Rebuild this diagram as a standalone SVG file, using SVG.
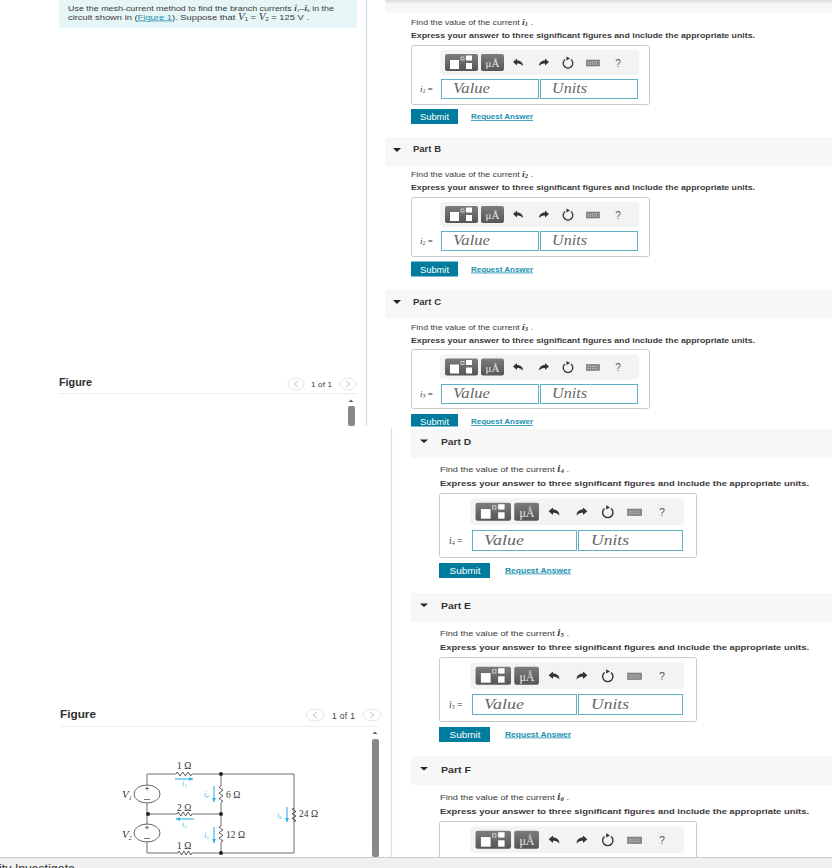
<svg xmlns="http://www.w3.org/2000/svg" xmlns:xlink="http://www.w3.org/1999/xlink" width="832" height="868" viewBox="0 0 832 868">
<style>
text{font-family:"Liberation Sans",Arial,sans-serif;fill:#3a3a3a;font-size:8px}
.b{font-weight:bold}
.fig{font-weight:bold;fill:#2e2e2e}
.part{font-weight:bold;fill:#333;font-size:9px}
.m{font-family:"Liberation Serif","Times New Roman",serif;font-style:italic}
.val{font-family:"Liberation Serif","Times New Roman",serif;font-style:italic;fill:#666}
.unit{font-family:"Liberation Serif","Times New Roman",serif;fill:#e8e8e8}
.q{fill:#555}
.link{fill:#1a8fb0;font-weight:bold;text-decoration:underline}
.sub{fill:#fff;font-size:9px;text-anchor:start}
.box{fill:#fff;stroke:#c9c9c9;stroke-width:1}
.inp{fill:#fff;stroke:#62b0c6;stroke-width:1}
.go{fill:#007c9e}
.band{fill:#f7f7f7}
.nav{fill:#fff;stroke:#e4e4e4}
.chev{fill:none;stroke:#c4c4c4}
.w{fill:none;stroke:#6e6e6e;stroke-width:1}
.r{fill:none;stroke:#333;stroke-width:.8}
.cy{fill:none;stroke:#2fb2e4;stroke-width:1.1;marker-end:url(#ah)}
.lbl{font-family:"Liberation Serif","Times New Roman",serif;font-size:9.500px;fill:#333}
.il{font-family:"Liberation Serif","Times New Roman",serif;font-style:italic;font-size:8px;fill:#4cb8e4}
.vl{font-family:"Liberation Serif","Times New Roman",serif;font-style:italic;font-size:11px;fill:#333}
.dot{fill:#222}
</style>
<defs>
<linearGradient id="top" x1="0" y1="0" x2="0" y2="1"><stop offset="0" stop-color="#dcdcdc"/><stop offset=".3" stop-color="#f7f7f7"/><stop offset="1" stop-color="#f8f8f8"/></linearGradient>
<linearGradient id="btn" x1="0" y1="0" x2="0" y2="1"><stop offset="0" stop-color="#7c7c7c"/><stop offset="1" stop-color="#555"/></linearGradient>
<marker id="ah" markerWidth="5" markerHeight="5" refX="4" refY="2" orient="auto" markerUnits="userSpaceOnUse"><path d="M0,0L4,2L0,4Z" fill="#2fb2e4"/></marker>
<g id="tools">
<rect x="29" y="5" width="199" height="25" rx="4" fill="#f3f3f3"/>
<rect x="34" y="9" width="33" height="17" rx="2" fill="url(#btn)"/>
<rect x="39" y="15" width="9" height="9" fill="#fff"/>
<rect x="50" y="12" width="3" height="3" fill="none" stroke="#fff" stroke-width=".6"/>
<rect x="55" y="10.500" width="6" height="5" fill="#fff"/><rect x="55" y="18" width="6" height="6" fill="#fff"/>
<rect x="70" y="9" width="23" height="17" rx="2" fill="url(#btn)"/>
<path transform="translate(107,18)" d="M-5,-1L-1,-4.500V-2.500C3,-2.500 5,0 5,3C3,1 1,.5 -1,.5V2.500Z" fill="#333"/>
<path transform="translate(133,18) scale(-1,1)" d="M-5,-1L-1,-4.500V-2.500C3,-2.500 5,0 5,3C3,1 1,.5 -1,.5V2.500Z" fill="#333"/>
<path d="M154,14.500A4.800,4.800 0 1 0 160,14.500" fill="none" stroke="#333" stroke-width="1.300"/><path d="M155.500,11.500L159,13.500L155.500,15.500Z" fill="#333"/>
<rect x="175.500" y="15" width="13" height="6" fill="#8a8a8a" stroke="#666" stroke-width=".5"/><path d="M177,17H187M177,19H187" stroke="#ddd" stroke-width=".7" stroke-dasharray="1 1"/>
</g>
</defs>
<rect width="832" height="868" fill="#fff"/>

<g id="intro">
<rect x="59" y="0" width="298" height="28" fill="#e6f5f6"/>
<text x="68" y="11" textLength="266" lengthAdjust="spacingAndGlyphs">Use the mesh-current method to find the branch currents <tspan class="m b">i</tspan><tspan class="m" font-size="5" dy="1">1</tspan><tspan dy="-1">–</tspan><tspan class="m b">i</tspan><tspan class="m" font-size="5" dy="1">6</tspan><tspan dy="-1"> in the</tspan></text>
<text x="68" y="19.500" textLength="241" lengthAdjust="spacingAndGlyphs">circuit shown in (<tspan fill="#1a8fb0" text-decoration="underline">Figure 1</tspan>). Suppose that <tspan class="m" style="font-size:9.500px">V</tspan><tspan font-size="5" dy="1">1</tspan><tspan dy="-1"> = </tspan><tspan class="m" style="font-size:9.500px">V</tspan><tspan font-size="5" dy="1">2</tspan><tspan dy="-1"> = 125  V .</tspan></text>
</g>

<g id="dividers">
<rect x="385" y="0" width="447" height="13" fill="url(#top)"/>
<path d="M366.500,0V426M391.500,428V857" stroke="#cfdfee" stroke-width="1.200" fill="none"/>
</g>

<g id="figure-a">
<text class="fig" x="59" y="385.500" style="font-size:10px" textLength="33" lengthAdjust="spacingAndGlyphs">Figure</text>
<ellipse class="nav" cx="296" cy="384" rx="8" ry="6"/><path class="chev" d="M298,381L294,384L298,387"/>
<text x="311" y="387" textLength="21" style="font-size:8px">1 of 1</text>
<ellipse class="nav" cx="348" cy="384" rx="8" ry="6"/><path class="chev" d="M346,381L350,384L346,387"/>
<path d="M59,393.500H357" stroke="#eee"/>
<path d="M348.500,402L351,399.500L353.500,402Z" fill="#666"/>
<rect x="348" y="406" width="7" height="20" rx="2" fill="#888"/>
</g>

<g id="figure-b">
<text class="fig" x="60" y="717.500" style="font-size:11px" textLength="36" lengthAdjust="spacingAndGlyphs">Figure</text>
<ellipse class="nav" cx="315" cy="715" rx="9" ry="6"/><path class="chev" d="M317,712L313,715L317,718"/>
<text x="332" y="719" textLength="23" style="font-size:8.500px">1 of 1</text>
<ellipse class="nav" cx="372" cy="715" rx="9" ry="6"/><path class="chev" d="M370,712L374,715L370,718"/>
<path d="M60,726.500H380" stroke="#eee"/>
<path d="M372.500,734L375,731.500L377.500,734Z" fill="#666"/>
<rect x="372" y="739" width="7" height="118" rx="2" fill="#888"/>
</g>

<g id="circuit-wires">
<path class="w" d="M147,785V774H176M192,774H294V853H192M178,853H147V842M147,803V824M147,814H177M192,814H221M221,774V786M221,803V826M221,842V853"/>
<path class="r" d="M176,774l1.300,-2l2.700,4l2.700,-4l2.700,4l2.700,-4l2.600,4l.8,-2"/>
<path class="r" d="M177,814l1.200,-2l2.500,4l2.500,-4l2.500,4l2.500,-4l2.500,4l1.300,-2"/>
<path class="r" d="M178,853l1.200,-2l2.300,4l2.300,-4l2.300,4l2.300,-4l2.300,4l1.300,-2"/>
<path class="r" d="M221,786l-2,1.400l4,2.800l-4,2.800l4,2.800l-4,2.800l4,2.800l-2,1"/>
<path class="r" d="M221,826l-2,1.300l4,2.700l-4,2.700l4,2.700l-4,2.700l4,2.700l-2,.7"/>
<path class="r" d="M294,808l-2,1.200l4,2.300l-4,2.300l4,2.300l-4,2.300l4,2.300l-2,.8"/>
</g>
<g id="circuit-sources">
<ellipse cx="147" cy="794" rx="13" ry="9" fill="#fff" stroke="#666"/>
<ellipse cx="147" cy="833" rx="13" ry="9" fill="#fff" stroke="#666"/>
<path d="M145,788.500h4M147,786.500v4M144,799.500h6M145,827.500h4M147,825.500v4M144,838.500h6" stroke="#444" stroke-width=".7"/>
<text class="vl" x="122" y="798">V<tspan font-size="6" dy="1.500">1</tspan></text>
<text class="vl" x="122" y="838">V<tspan font-size="6" dy="1.500">2</tspan></text>
</g>
<g id="circuit-dots">
<circle class="dot" cx="221" cy="774" r="2"/><circle class="dot" cx="148" cy="814" r="2"/><circle class="dot" cx="221" cy="814" r="2"/><circle class="dot" cx="221" cy="853" r="2"/>
</g>
<g id="circuit-currents">
<path class="cy" d="M175,779H193"/><path class="cy" d="M194,819H176"/>
<path class="cy" d="M214,786V802"/><path class="cy" d="M214,827V843"/><path class="cy" d="M287,807V822"/>
<text class="il" x="182" y="786">i<tspan font-size="5" dy="1">1</tspan></text>
<text class="il" x="182" y="827">i<tspan font-size="5" dy="1">2</tspan></text>
<text class="il" x="204" y="797">i<tspan font-size="5" dy="1">4</tspan></text>
<text class="il" x="204" y="838">i<tspan font-size="5" dy="1">5</tspan></text>
<text class="il" x="277" y="818">i<tspan font-size="5" dy="1">6</tspan></text>
</g>
<g id="circuit-labels">
<text class="lbl" x="177" y="769">1 Ω</text>
<text class="lbl" x="177" y="811">2 Ω</text>
<text class="lbl" x="177" y="849">1 Ω</text>
<text class="lbl" x="226" y="798">6 Ω</text>
<text class="lbl" x="226" y="838">12 Ω</text>
<text class="lbl" x="299" y="817">24 Ω</text>
</g>

<g id="part-a">
<text x="411" y="25" textLength="122" lengthAdjust="spacingAndGlyphs">Find the value of the current <tspan class="m b" style="font-size:9px">i</tspan><tspan class="m b" font-size="6" dy="1">1</tspan><tspan dy="-1"> .</tspan></text>
<text class="b" x="411" y="38" textLength="344" lengthAdjust="spacingAndGlyphs">Express your answer to three significant figures and include the appropriate units.</text>
<rect class="box" x="411.500" y="45.500" width="238" height="59" rx="2"/>
<use href="#tools" xlink:href="#tools" transform="translate(411,45)"/>
<text class="unit" x="492.500" y="67" text-anchor="middle" style="font-size:11px">μÅ</text>
<text class="q" x="618" y="66.500" text-anchor="middle" style="font-size:10px">?</text>
<text class="m" x="420" y="92" style="font-size:9px">i<tspan font-size="6" dy="1">1</tspan><tspan dy="-1" font-style="normal"> =</tspan></text>
<rect class="inp" x="441.500" y="79.500" width="97" height="19"/><rect class="inp" x="540.500" y="79.500" width="97" height="19"/>
<text class="val" x="453" y="93" style="font-size:14px" textLength="37" lengthAdjust="spacingAndGlyphs">Value</text><text class="val" x="552" y="93" style="font-size:14px" textLength="35" lengthAdjust="spacingAndGlyphs">Units</text>
<rect class="go" x="411" y="109" width="47" height="15"/>
<text class="sub" x="420" y="120" textLength="29" lengthAdjust="spacingAndGlyphs">Submit</text>
<text class="link" x="471" y="119" textLength="62" lengthAdjust="spacingAndGlyphs">Request Answer</text>
</g>

<g id="part-b">
<rect class="band" x="385" y="137" width="447" height="29"/>
<path d="M393,148H401L397,152Z" fill="#222"/>
<text class="part" x="413" y="152" textLength="28" lengthAdjust="spacingAndGlyphs">Part B</text>
<text x="411" y="177" textLength="122" lengthAdjust="spacingAndGlyphs">Find the value of the current <tspan class="m b" style="font-size:9px">i</tspan><tspan class="m b" font-size="6" dy="1">2</tspan><tspan dy="-1"> .</tspan></text>
<text class="b" x="411" y="190" textLength="344" lengthAdjust="spacingAndGlyphs">Express your answer to three significant figures and include the appropriate units.</text>
<rect class="box" x="411.500" y="197.500" width="238" height="59" rx="2"/>
<use href="#tools" xlink:href="#tools" transform="translate(411,197)"/>
<text class="unit" x="492.500" y="219" text-anchor="middle" style="font-size:11px">μÅ</text>
<text class="q" x="618" y="218.500" text-anchor="middle" style="font-size:10px">?</text>
<text class="m" x="420" y="244" style="font-size:9px">i<tspan font-size="6" dy="1">2</tspan><tspan dy="-1" font-style="normal"> =</tspan></text>
<rect class="inp" x="441.500" y="231.500" width="97" height="19"/><rect class="inp" x="540.500" y="231.500" width="97" height="19"/>
<text class="val" x="453" y="245" style="font-size:14px" textLength="37" lengthAdjust="spacingAndGlyphs">Value</text><text class="val" x="552" y="245" style="font-size:14px" textLength="35" lengthAdjust="spacingAndGlyphs">Units</text>
<rect class="go" x="411" y="261.500" width="47" height="15"/>
<text class="sub" x="420" y="272.500" textLength="29" lengthAdjust="spacingAndGlyphs">Submit</text>
<text class="link" x="471" y="271.500" textLength="62" lengthAdjust="spacingAndGlyphs">Request Answer</text>
</g>

<g id="part-c">
<rect class="band" x="385" y="289.500" width="447" height="29"/>
<path d="M393,300H401L397,304Z" fill="#222"/>
<text class="part" x="413" y="304.500" textLength="28" lengthAdjust="spacingAndGlyphs">Part C</text>
<text x="411" y="329.500" textLength="122" lengthAdjust="spacingAndGlyphs">Find the value of the current <tspan class="m b" style="font-size:9px">i</tspan><tspan class="m b" font-size="6" dy="1">3</tspan><tspan dy="-1"> .</tspan></text>
<text class="b" x="411" y="342.500" textLength="344" lengthAdjust="spacingAndGlyphs">Express your answer to three significant figures and include the appropriate units.</text>
<rect class="box" x="411.500" y="349.500" width="238" height="59" rx="2"/>
<use href="#tools" xlink:href="#tools" transform="translate(411,349.500)"/>
<text class="unit" x="492.500" y="371.500" text-anchor="middle" style="font-size:11px">μÅ</text>
<text class="q" x="618" y="371" text-anchor="middle" style="font-size:10px">?</text>
<text class="m" x="420" y="396.500" style="font-size:9px">i<tspan font-size="6" dy="1">3</tspan><tspan dy="-1" font-style="normal"> =</tspan></text>
<rect class="inp" x="441.500" y="384.500" width="97" height="19"/><rect class="inp" x="540.500" y="384.500" width="97" height="19"/>
<text class="val" x="453" y="398" style="font-size:14px" textLength="37" lengthAdjust="spacingAndGlyphs">Value</text><text class="val" x="552" y="398" style="font-size:14px" textLength="35" lengthAdjust="spacingAndGlyphs">Units</text>
<rect class="go" x="411" y="414" width="47" height="12.500"/>
<text class="sub" x="420" y="425" textLength="29" lengthAdjust="spacingAndGlyphs">Submit</text>
<text class="link" x="471" y="424" textLength="62" lengthAdjust="spacingAndGlyphs">Request Answer</text>
</g>

<g id="part-d">
<rect class="band" x="411" y="429" width="421" height="29"/>
<path d="M420,439.500H428L424,443Z" fill="#222"/>
<text class="part" x="441" y="444.500" textLength="30" lengthAdjust="spacingAndGlyphs">Part D</text>
<text x="440" y="472" textLength="129" lengthAdjust="spacingAndGlyphs">Find the value of the current <tspan class="m b" style="font-size:9.500px">i</tspan><tspan class="m b" font-size="6" dy="1">4</tspan><tspan dy="-1"> .</tspan></text>
<text class="b" x="440" y="486" textLength="369" lengthAdjust="spacingAndGlyphs">Express your answer to three significant figures and include the appropriate units.</text>
<rect class="box" x="439.500" y="493.500" width="257" height="64" rx="2"/>
<use href="#tools" xlink:href="#tools" transform="translate(439,493) scale(1.075,1.07)"/>
<text class="unit" x="527" y="517" text-anchor="middle" style="font-size:12px">μÅ</text>
<text class="q" x="662" y="516" text-anchor="middle" style="font-size:10.500px">?</text>
<text class="m" x="449" y="544" style="font-size:9.500px">i<tspan font-size="6" dy="1">4</tspan><tspan dy="-1" font-style="normal"> =</tspan></text>
<rect class="inp" x="472.500" y="530.500" width="104" height="20"/><rect class="inp" x="578.500" y="530.500" width="104" height="20"/>
<text class="val" x="484" y="545" style="font-size:15px" textLength="40" lengthAdjust="spacingAndGlyphs">Value</text><text class="val" x="591" y="545" style="font-size:15px" textLength="38" lengthAdjust="spacingAndGlyphs">Units</text>
<rect class="go" x="439" y="563" width="51" height="15"/>
<text class="sub" x="449.500" y="574" textLength="31" lengthAdjust="spacingAndGlyphs">Submit</text>
<text class="link" x="505" y="572.500" textLength="66" lengthAdjust="spacingAndGlyphs">Request Answer</text>
</g>

<g id="part-e">
<rect class="band" x="411" y="593" width="421" height="29"/>
<path d="M420,603.500H428L424,607Z" fill="#222"/>
<text class="part" x="441" y="608.500" textLength="30" lengthAdjust="spacingAndGlyphs">Part E</text>
<text x="440" y="636" textLength="129" lengthAdjust="spacingAndGlyphs">Find the value of the current <tspan class="m b" style="font-size:9.500px">i</tspan><tspan class="m b" font-size="6" dy="1">5</tspan><tspan dy="-1"> .</tspan></text>
<text class="b" x="440" y="650" textLength="369" lengthAdjust="spacingAndGlyphs">Express your answer to three significant figures and include the appropriate units.</text>
<rect class="box" x="439.500" y="657.500" width="257" height="64" rx="2"/>
<use href="#tools" xlink:href="#tools" transform="translate(439,657) scale(1.075,1.07)"/>
<text class="unit" x="527" y="681" text-anchor="middle" style="font-size:12px">μÅ</text>
<text class="q" x="662" y="680" text-anchor="middle" style="font-size:10.500px">?</text>
<text class="m" x="449" y="708" style="font-size:9.500px">i<tspan font-size="6" dy="1">5</tspan><tspan dy="-1" font-style="normal"> =</tspan></text>
<rect class="inp" x="472.500" y="694.500" width="104" height="20"/><rect class="inp" x="578.500" y="694.500" width="104" height="20"/>
<text class="val" x="484" y="709" style="font-size:15px" textLength="40" lengthAdjust="spacingAndGlyphs">Value</text><text class="val" x="591" y="709" style="font-size:15px" textLength="38" lengthAdjust="spacingAndGlyphs">Units</text>
<rect class="go" x="439" y="727" width="51" height="15"/>
<text class="sub" x="449.500" y="738" textLength="31" lengthAdjust="spacingAndGlyphs">Submit</text>
<text class="link" x="505" y="736.500" textLength="66" lengthAdjust="spacingAndGlyphs">Request Answer</text>
</g>

<g id="part-f">
<rect class="band" x="411" y="756" width="421" height="29"/>
<path d="M420,767H428L424,770.500Z" fill="#222"/>
<text class="part" x="441" y="772.500" textLength="30" lengthAdjust="spacingAndGlyphs">Part F</text>
<text x="440" y="800" textLength="129" lengthAdjust="spacingAndGlyphs">Find the value of the current <tspan class="m b" style="font-size:9.500px">i</tspan><tspan class="m b" font-size="6" dy="1">6</tspan><tspan dy="-1"> .</tspan></text>
<text class="b" x="440" y="814" textLength="369" lengthAdjust="spacingAndGlyphs">Express your answer to three significant figures and include the appropriate units.</text>
<rect class="box" x="439.500" y="821.500" width="257" height="64" rx="2"/>
<use href="#tools" xlink:href="#tools" transform="translate(439,821) scale(1.075,1.07)"/>
<text class="unit" x="527" y="845" text-anchor="middle" style="font-size:12px">μÅ</text>
<text class="q" x="662" y="844" text-anchor="middle" style="font-size:10.500px">?</text>
</g>

<g id="footer">
<rect x="0" y="857" width="832" height="11" fill="#f1f0ee"/>
<path d="M0,857.500H832" stroke="#c9c9c9"/>
<text x="-1" y="873" style="font-size:12px;fill:#333" textLength="76" lengthAdjust="spacingAndGlyphs">ity Investigate</text>
</g>
</svg>
